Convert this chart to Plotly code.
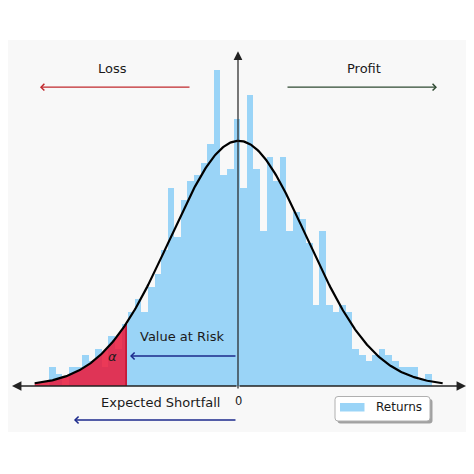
import numpy as np
import plotly.graph_objects as go

# ---------------- data ----------------
BIN_START = -2.78          # left edge of first histogram bin (return units, sigma = 1)
BIN_WIDTH = 0.097
COUNTS = [3, 2, 0, 3, 3, 5, 4, 6, 3, 8, 6, 10,
          12, 14, 12, 16, 18, 22, 32, 24, 30, 33, 34, 36, 39,
          51, 34, 35, 43, 32, 47, 35, 25, 37, 33, 37, 25, 28, 27, 23,
          13, 25, 13, 12, 13, 12, 6, 5, 4, 5, 6, 5, 4, 3, 3, 3, 1, 2]
MU = 0.01
SIGMA = 1.0
VAR_LEVEL = -1.645          # Value at Risk cut-off
ZERO_TICK = ["0"]
LABELS = {"loss": "Loss", "profit": "Profit", "var": "Value at Risk",
          "alpha": "α", "es": "Expected Shortfall", "legend": "Returns"}

# ---------------- derived ----------------
OFF = 8                     # page body margin
W = H = 474 - OFF
counts = np.array(COUNTS, dtype=float)
edges = BIN_START + BIN_WIDTH * np.arange(len(counts) + 1)
centers = (edges[:-1] + edges[1:]) / 2
n_total = counts.sum()

def pdf_scaled(x):
    return n_total * BIN_WIDTH / (SIGMA * np.sqrt(2 * np.pi)) * np.exp(-((x - MU) ** 2) / (2 * SIGMA ** 2))

xc = np.linspace(MU - 3 * SIGMA, MU + 3 * SIGMA, 400)
yc = pdf_scaled(xc)

xt = np.linspace(MU - 3 * SIGMA, VAR_LEVEL, 200)
yt = pdf_scaled(xt)
tail_x = np.concatenate([xt, [VAR_LEVEL, xt[0]]])
tail_y = np.concatenate([yt, [0, 0]])

BAR_COLOR = "#9ad4f7"
TXT = "#1a1a1a"
FONT = "DejaVu Sans"

fig = go.Figure()
fig.add_trace(go.Bar(x=centers, y=counts, width=BIN_WIDTH, marker=dict(color=BAR_COLOR, line=dict(width=0)),
                     name=LABELS["legend"], showlegend=False, hoverinfo="skip"))
fig.add_trace(go.Scatter(x=tail_x, y=tail_y, fill="toself", fillcolor="rgba(232,30,64,0.88)",
                         line=dict(width=0), mode="lines", showlegend=False, hoverinfo="skip"))
fig.add_trace(go.Scatter(x=[VAR_LEVEL, VAR_LEVEL], y=[0, pdf_scaled(VAR_LEVEL)], mode="lines",
                         line=dict(color="#c4122f", width=1.6), showlegend=False, hoverinfo="skip"))
fig.add_trace(go.Scatter(x=xc, y=yc, mode="lines", line=dict(color="black", width=2.2),
                         showlegend=False, hoverinfo="skip"))

# pixel helpers for layout (paper coordinates, page pixels)
def px(x):
    return (x - OFF) / W

def py(y):
    return 1 - (y - OFF) / H

def rpath(x0, y0, x1, y1, r):
    X0, X1 = px(x0), px(x1)
    Y0, Y1 = py(y0), py(y1)
    rr = r / W
    return (f"M{X0+rr},{Y0} L{X1-rr},{Y0} Q{X1},{Y0} {X1},{Y0-rr} L{X1},{Y1+rr} Q{X1},{Y1} {X1-rr},{Y1} "
            f"L{X0+rr},{Y1} Q{X0},{Y1} {X0},{Y1+rr} L{X0},{Y0-rr} Q{X0},{Y0} {X0+rr},{Y0} Z")

shapes = [
    dict(type="rect", xref="paper", yref="paper", x0=0, x1=px(472), y0=py(432), y1=py(40),
         fillcolor="#f8f8f8", line=dict(width=0), layer="below"),
    # legend shadow + box + patch
    dict(type="path", xref="paper", yref="paper", path=rpath(337.5, 399, 432.5, 423.5, 3),
         fillcolor="rgba(0,0,0,0.35)", line=dict(width=0)),
    dict(type="path", xref="paper", yref="paper", path=rpath(335, 396.5, 430, 421, 3),
         fillcolor="white", line=dict(color="#b0b0b0", width=1)),
    dict(type="rect", xref="paper", yref="paper", x0=px(340), x1=px(364.5), y0=py(411.5), y1=py(403),
         fillcolor=BAR_COLOR, line=dict(width=0)),
]

ann = []
def arrow(x_head, x_tail, y_head, y_tail, color, width, head, size):
    ann.append(dict(x=x_head, y=y_head, ax=x_tail, ay=y_tail, xref="x", yref="y", axref="x", ayref="y",
                    text="", showarrow=True, arrowhead=head, arrowsize=size, arrowwidth=width,
                    arrowcolor=color))

# axes with arrowheads
arrow(3.353, 0, 0, 0, "#222222", 1.4, 2, 1.35)
arrow(-3.324, 0, 0, 0, "#222222", 1.4, 2, 1.35)
arrow(0, 0, 54.0, -0.65, "#222222", 1.2, 2, 1.45)
# loss / profit arrows
arrow(-2.912, -0.691, 48.2, 48.2, "#c0282d", 1.3, 4, 1.0)
arrow(2.926, 0.706, 48.2, 48.2, "#2f4a32", 1.3, 4, 1.0)
# VaR and ES arrows
arrow(-1.588, -0.015, 4.84, 4.84, "#1c2a8c", 1.5, 4, 0.9)
arrow(-2.412, -0.015, -5.48, -5.48, "#1c2a8c", 1.5, 4, 0.9)

def label(text, x, y, size=13, italic=False):
    ann.append(dict(x=px(x), y=py(y), xref="paper", yref="paper", text=(f"<i>{text}</i>" if italic else text),
                    showarrow=False, font=dict(family=FONT, size=size, color=TXT),
                    xanchor="center", yanchor="middle"))

label(LABELS["loss"], 112.5, 69)
label(LABELS["profit"], 364, 69)
label(LABELS["var"], 182, 336.5)
label(LABELS["alpha"], 112, 356.5, size=13, italic=True)
label(LABELS["es"], 160.5, 402.5)
label(ZERO_TICK[0], 238.7, 401, size=11.5)
label(LABELS["legend"], 399, 407, size=12)

# data ranges chosen so that the baseline sits at page y=386 and zero at page x=238
X_PER_PX = 1 / 68.0
Y_PER_PX = 1 / 6.2
fig.update_layout(
    width=W, height=H, margin=dict(l=0, r=0, t=0, b=0), autosize=False,
    paper_bgcolor="white", plot_bgcolor="rgba(0,0,0,0)",
    xaxis=dict(range=[(OFF - 238) * X_PER_PX, (474 - 238) * X_PER_PX], visible=False, fixedrange=True),
    yaxis=dict(range=[(386 - 474) * Y_PER_PX, (386 - OFF) * Y_PER_PX], visible=False, fixedrange=True),
    bargap=0, shapes=shapes, annotations=ann, showlegend=False,
)

fig.write_html("out.html")
